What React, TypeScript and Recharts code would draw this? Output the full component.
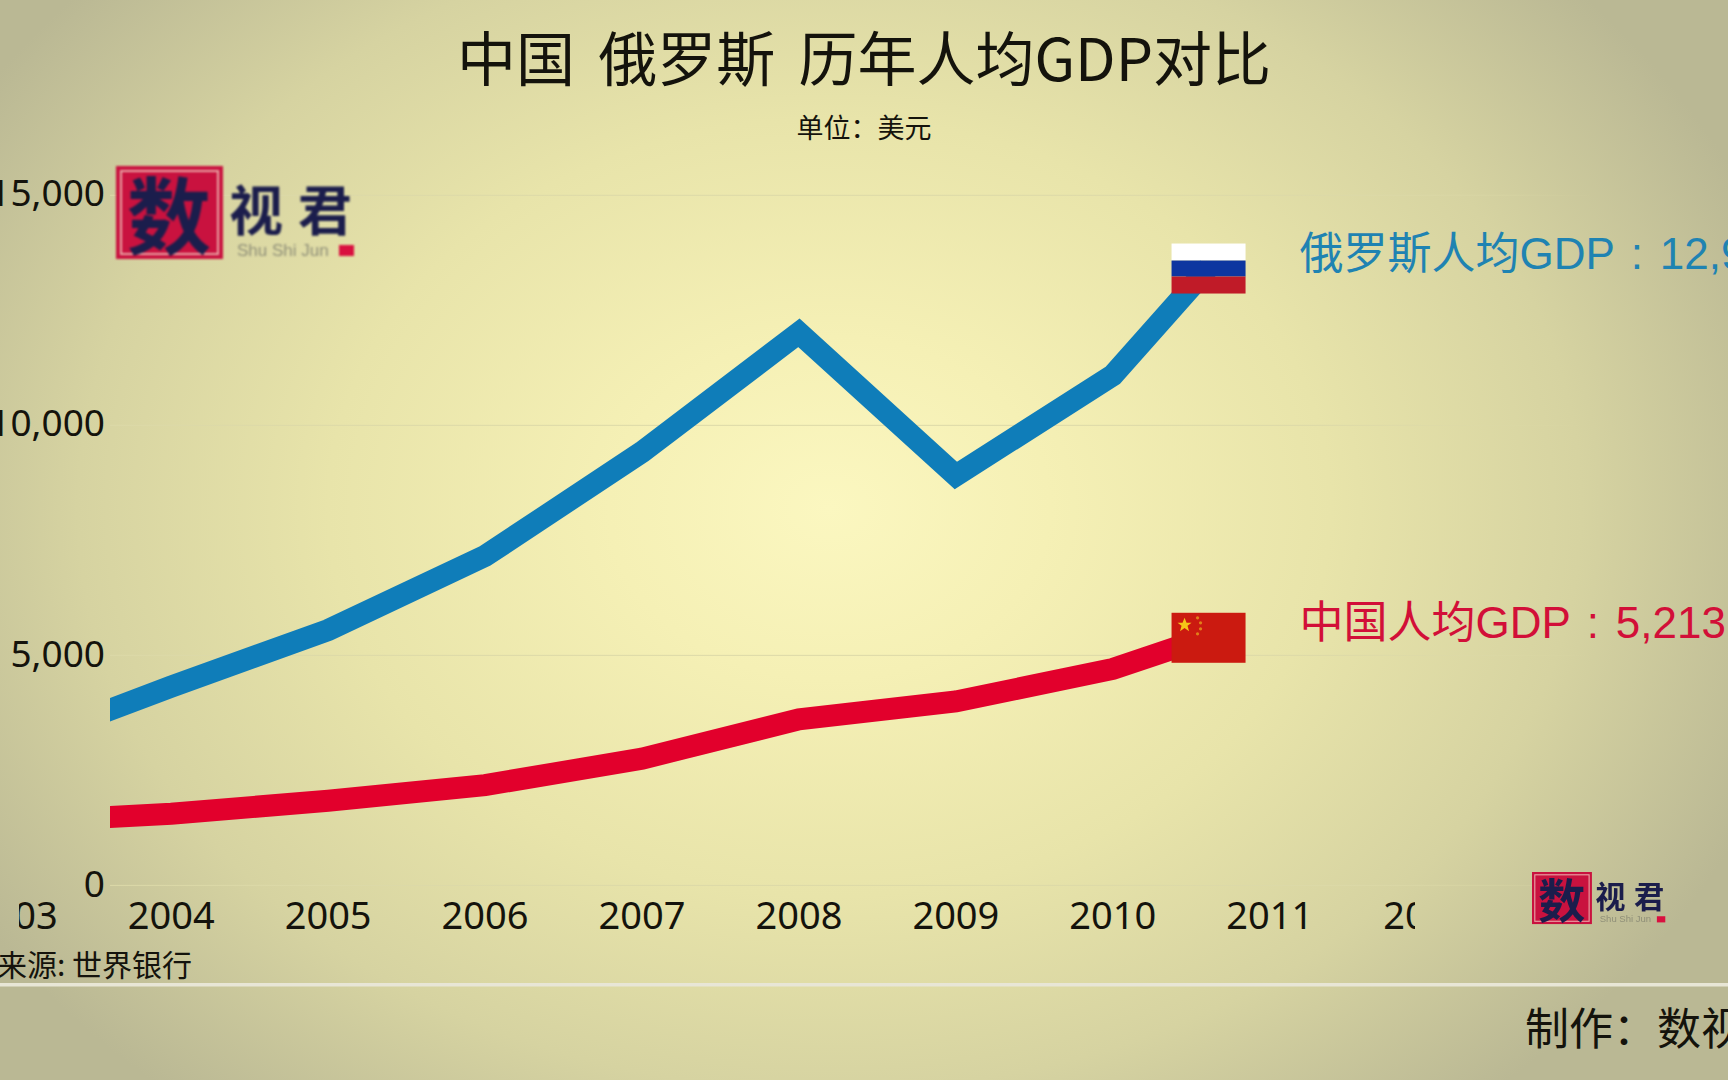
import { LineChart, Line, XAxis, YAxis, CartesianGrid } from "recharts";

const WIDTH = 1728;
const HEIGHT = 1080;
const CJK = '"Noto Sans CJK SC", "Noto Sans", sans-serif';
const LABEL_FONT = '"Liberation Sans", "Noto Sans CJK SC", sans-serif';
const TICK_FONT = '"Noto Sans", "Open Sans", sans-serif';

// last entry is where the animated line had got to when the frame was taken
const years = [2003, 2004, 2005, 2006, 2007, 2008, 2009, 2010, 2010.61];
const russia = [3030, 4320, 5552, 7160, 9420, 12010, 8909, 11090, 13430];
const china = [1378, 1557, 1841, 2180, 2755, 3608, 3998, 4704, 5404];

const xTicks = [2003, 2004, 2005, 2006, 2007, 2008, 2009, 2010, 2011, 2012];
const yTicks = [0, 5000, 10000, 15000];

const title = "中国 俄罗斯 历年人均GDP对比";
const subtitle = "单位：美元";
const source = "来源: 世界银行";
const credit = "制作：数视君";
const russiaLabel = "俄罗斯人均GDP : 12,9";
const chinaLabel = "中国人均GDP : 5,213";

const data = years.map((year, i) => ({ year, russia: russia[i], china: china[i] }));
const lastIndex = years.length - 1;

const BLUE = "#0f7db9";
const RED = "#e2002c";

function XTick({ x, y, payload }: any) {
  const id = `tick-clip-${payload.value}`;
  return (
    <g>
      <clipPath id={id}>
        <rect x={19} y={880} width={1396} height={80} />
      </clipPath>
      <text
        x={x}
        y={y}
        clipPath={`url(#${id})`}
        textAnchor="middle"
        dominantBaseline="central"
        fontFamily={TICK_FONT}
        fontSize={38}
        fill="#14130c"
      >
        {payload.value}
      </text>
    </g>
  );
}

function EndFlag({ cx, cy, country }: any) {
  const left = cx - 37;
  const top = cy - 24;
  const label = country === "russia" ? russiaLabel : chinaLabel;
  const color = country === "russia" ? "#1f83b2" : "#d20f38";
  return (
    <g>
      {country === "russia" ? (
        <g>
          <rect x={left} y={top} width={74} height={17} fill="#ffffff" />
          <rect x={left} y={top + 17} width={74} height={16} fill="#0d36a0" />
          <rect x={left} y={top + 33} width={74} height={17} fill="#c01b28" />
        </g>
      ) : (
        <g>
          <rect x={left} y={top} width={74} height={50} fill="#cb1a10" />
          <polygon
            transform={`translate(${left + 13} ${top + 12})`}
            points="0,-7 2,-2 7,-2 3,1 4.5,6.5 0,3.2 -4.5,6.5 -3,1 -7,-2 -2,-2"
            fill="#f5c518"
          />
          <circle cx={left + 26} cy={top + 5} r={1.6} fill="#e0801a" />
          <circle cx={left + 29} cy={top + 10} r={1.6} fill="#e0801a" />
          <circle cx={left + 29} cy={top + 16} r={1.6} fill="#e0801a" />
          <circle cx={left + 26} cy={top + 21} r={1.6} fill="#e0801a" />
        </g>
      )}
      <text
        x={cx + 91}
        y={cy - 14}
        dominantBaseline="central"
        fontFamily={LABEL_FONT}
        fontSize={44}
        wordSpacing={4.5}
        fill={color}
      >
        {label}
      </text>
    </g>
  );
}

function endDot(country: string) {
  return (props: any) =>
    props.index === lastIndex ? (
      <EndFlag key={country} cx={props.cx} cy={props.cy} country={country} />
    ) : (
      <g key={`${country}-${props.index}`} />
    );
}

function Logo({ x, y, scale }: { x: number; y: number; scale: number }) {
  return (
    <g transform={`translate(${x} ${y}) scale(${scale})`} style={{ filter: "blur(1px)" }}>
      <rect x={0} y={0} width={107} height={93} fill="#c9123f" />
      <rect x={5} y={5} width={97} height={83} fill="none" stroke="#e9a5a5" strokeWidth={2} />
      <text
        x={53}
        y={45}
        textAnchor="middle"
        dominantBaseline="central"
        fontFamily={CJK}
        fontWeight={700}
        fontSize={84}
        fill="#1b1d4c"
      >
        数
      </text>
      <text
        x={113}
        y={41}
        dominantBaseline="central"
        fontFamily={CJK}
        fontWeight={700}
        fontSize={54}
        fill="#1b1d4c"
      >
        视
      </text>
      <text
        x={182}
        y={41}
        dominantBaseline="central"
        fontFamily={CJK}
        fontWeight={700}
        fontSize={54}
        fill="#1b1d4c"
      >
        君
      </text>
      <text x={121} y={90} fontFamily={LABEL_FONT} fontSize={17} fill="#8f8f78">
        Shu Shi Jun
      </text>
      <rect x={223} y={79} width={15} height={11} fill="#d9103f" />
    </g>
  );
}

export default function App() {
  return (
    <div
      style={{
        position: "absolute",
        left: 0,
        top: 0,
        width: WIDTH,
        height: HEIGHT,
        overflow: "hidden",
        background:
          "radial-gradient(ellipse 58% 72% at 48% 47%, #fbf7c0 0%, #f5f0b5 22%, #e8e4aa 50%, #d6d3a1 75%, #bab894 100%)",
      }}
    >
      <LineChart
        width={WIDTH}
        height={HEIGHT}
        data={data}
        margin={{ top: 195.3, right: 0, bottom: 94.6, left: 0 }}
        style={{ position: "absolute", left: 0, top: 0 }}
      >
        <defs>
          {/* grid dissolves into the darker edge of the background */}
          <linearGradient id="gridFade" gradientUnits="userSpaceOnUse" x1={110} y1={0} x2={1728} y2={0}>
            <stop offset="0%" stopColor="#dcd9a8" />
            <stop offset="75%" stopColor="#dcd9a8" />
            <stop offset="92%" stopColor="#dcd9a8" stopOpacity={0} />
          </linearGradient>
        </defs>
        <CartesianGrid horizontal vertical={false} stroke="url(#gridFade)" strokeWidth={1} />
        <XAxis
          dataKey="year"
          type="number"
          domain={[2003.61, 2013.92]}
          allowDataOverflow
          ticks={xTicks}
          interval={0}
          axisLine={false}
          tickLine={false}
          height={100}
          tick={<XTick />}
          tickMargin={23}
        />
        <YAxis
          type="number"
          domain={[0, 15000]}
          ticks={yTicks}
          width={110}
          axisLine={false}
          tickLine={false}
          tickSize={0}
          tickMargin={5}
          tickFormatter={(v: number) => v.toLocaleString("en-US")}
          tick={{ fontFamily: TICK_FONT, fontSize: 37, fill: "#14130c", dy: -2 }}
        />
        <Line
          dataKey="russia"
          stroke={BLUE}
          strokeWidth={22}
          strokeLinejoin="miter"
          strokeLinecap="butt"
          type="linear"
          dot={endDot("russia")}
          activeDot={false}
          isAnimationActive={false}
        />
        <Line
          dataKey="china"
          stroke={RED}
          strokeWidth={22}
          strokeLinejoin="miter"
          strokeLinecap="butt"
          type="linear"
          dot={endDot("china")}
          activeDot={false}
          isAnimationActive={false}
        />
      </LineChart>
      <svg width={WIDTH} height={HEIGHT} style={{ position: "absolute", left: 0, top: 0 }}>
        <text
          x={864}
          y={55}
          textAnchor="middle"
          dominantBaseline="central"
          fontFamily={CJK}
          fontSize={59}
          wordSpacing={10}
          fill="#14130c"
        >
          {title}
        </text>
        <text
          x={864}
          y={126}
          textAnchor="middle"
          dominantBaseline="central"
          fontFamily={CJK}
          fontSize={27}
          fill="#14130c"
        >
          {subtitle}
        </text>
        <text x={-3} y={963} dominantBaseline="central" fontFamily={CJK} fontSize={30} fill="#14130c">
          {source}
        </text>
        <rect x={0} y={983} width={WIDTH} height={3.5} fill="#e8e6d6" />
        <text x={1525} y={1026} dominantBaseline="central" fontFamily={CJK} fontSize={44} fill="#14130c">
          {credit}
        </text>
        <Logo x={116} y={166} scale={1} />
        <Logo x={1532} y={872} scale={0.56} />
      </svg>
    </div>
  );
}
